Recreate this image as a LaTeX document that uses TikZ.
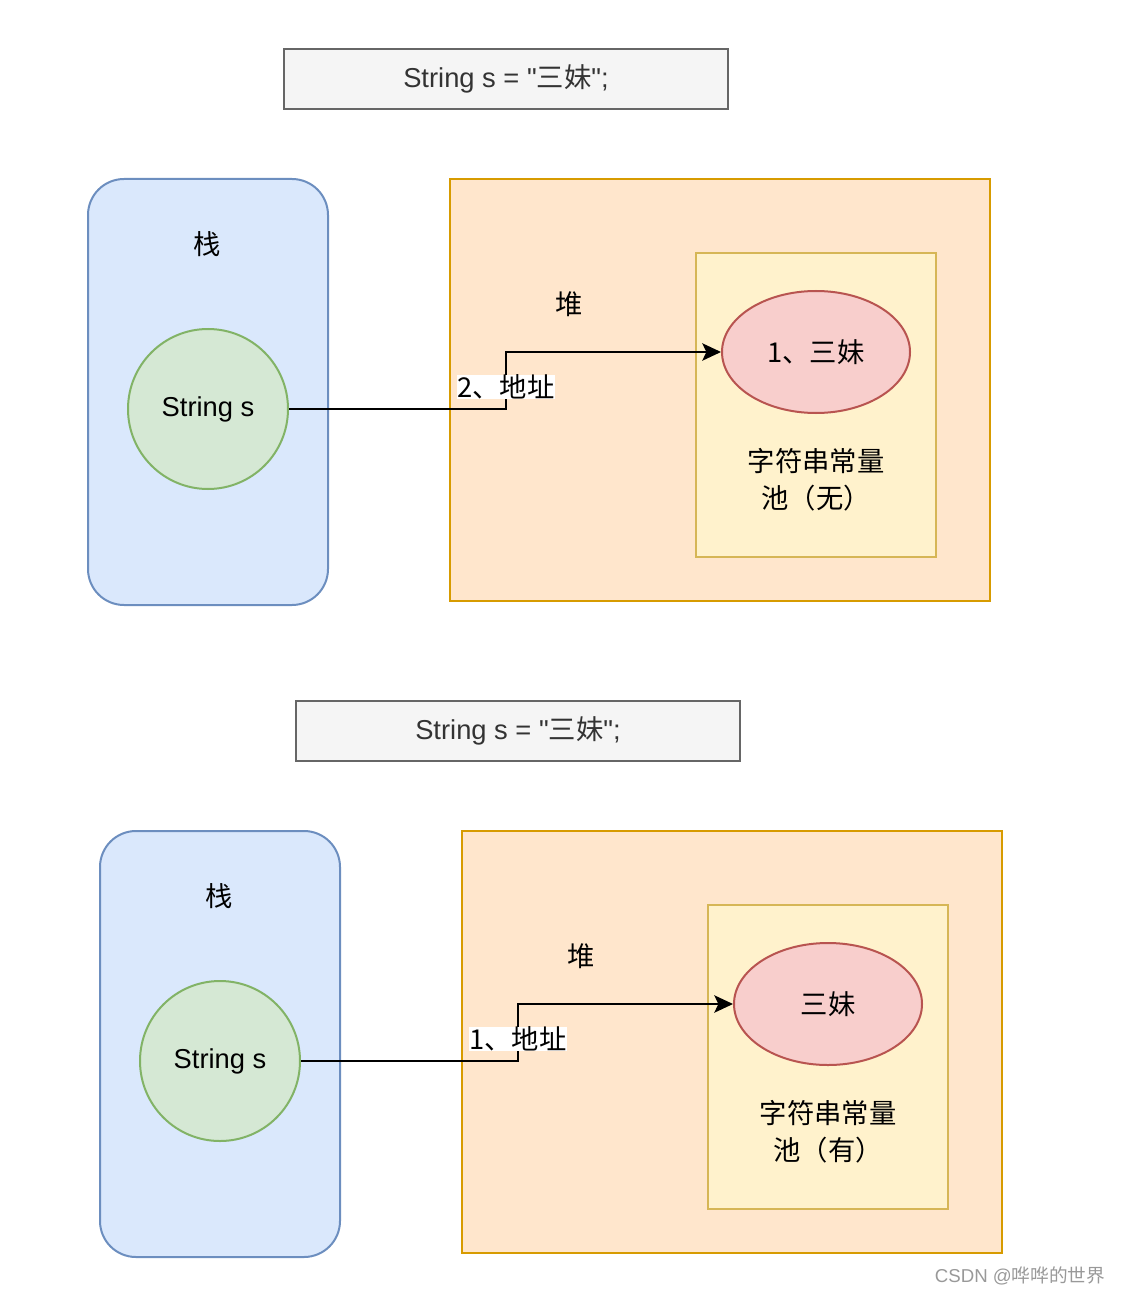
\documentclass[tikz,border=0pt]{standalone}
\usepackage{fontspec}
\setmainfont{Liberation Sans}[Ligatures=TeXOff]
\newfontfamily\cjk{Noto Sans CJK SC}
\usetikzlibrary{arrows.meta,positioning,shapes.geometric}
\definecolor{codefill}{HTML}{F5F5F5}
\definecolor{codeline}{HTML}{666666}
\definecolor{codetext}{HTML}{333333}
\definecolor{stkfill}{HTML}{DAE8FC}
\definecolor{stkline}{HTML}{6C8EBF}
\definecolor{heapfill}{HTML}{FFE6CC}
\definecolor{heapline}{HTML}{D79B00}
\definecolor{poolfill}{HTML}{FFF2CC}
\definecolor{poolline}{HTML}{D6B656}
\definecolor{varfill}{HTML}{D5E8D4}
\definecolor{varline}{HTML}{82B366}
\definecolor{strfill}{HTML}{F8CECC}
\definecolor{strline}{HTML}{B85450}
\tikzset{
  txt/.style={font=\fontsize{20.5}{26}\selectfont, inner sep=0pt},
  codebox/.style={rectangle, draw=codeline, fill=codefill, line width=1.5pt, text=codetext,
    minimum width=333pt, minimum height=45pt, txt},
  stkbox/.style={rectangle, draw=stkline, fill=stkfill, line width=1.5pt, rounded corners=27pt,
    minimum width=180pt, minimum height=319.5pt},
  heapbox/.style={rectangle, draw=heapline, fill=heapfill, line width=1.5pt,
    minimum width=405pt, minimum height=316.5pt},
  poolbox/.style={rectangle, draw=poolline, fill=poolfill, line width=1.5pt,
    minimum width=180pt, minimum height=228pt},
  varnode/.style={circle, draw=varline, fill=varfill, line width=1.5pt, minimum size=120pt, txt},
  strnode/.style={ellipse, draw=strline, fill=strfill, line width=1.5pt,
    minimum width=141pt, minimum height=91.5pt, txt},
  addr/.style={fill=white, inner xsep=1.5pt, inner ysep=3pt, txt},
  link/.style={-{Stealth[length=14pt, width=13pt, inset=3pt]}, line width=1.5pt},
}
% one panel: prefix, shift, string in pool, pool state, address label
\newcommand{\mempanel}[5]{%
  \begin{scope}[shift={#2}]
    \node[codebox] (#1code) at (506,79) {String s = "{\cjk 三妹}";};
    \node[stkbox] (#1stk) at (208,392) {};
    \node[txt] (#1stklbl) at (207,244) {\cjk 栈};
    \node[varnode] (#1var) at (208,409) {String s};
    \node[heapbox] (#1heap) at (720,390) {};
    \node[txt] (#1heaplbl) at (569,304) {\cjk 堆};
    \node[poolbox] (#1pool) at (816,405) {};
    \node[strnode] (#1str) at (816,352) {\cjk #3};
    \node[txt, align=center] (#1poollbl) at (816,480) {\cjk 字符串常量\\[2pt]\cjk 池（#4）};
    \coordinate (#1mid) at (506,387);
    \draw[link] (#1var.east) -| (#1mid) |- (#1str.west);
    \node[addr] (#1addr) at (#1mid) {\cjk #5};
  \end{scope}}

\begin{document}
\begin{tikzpicture}[x=0.75pt, y=-0.75pt]
  \useasboundingbox (0,0) rectangle (1126,1294);
  \mempanel{a}{(0,0)}{1、三妹}{无}{2、地址}
  \mempanel{b}{(12,652)}{三妹}{有}{1、地址}
  \node[anchor=east, text=gray!80, font=\fontsize{14}{16}\selectfont] (mark) at (1110,1276)
    {CSDN @{\cjk 哗哗的世界}};
\end{tikzpicture}
\end{document}
